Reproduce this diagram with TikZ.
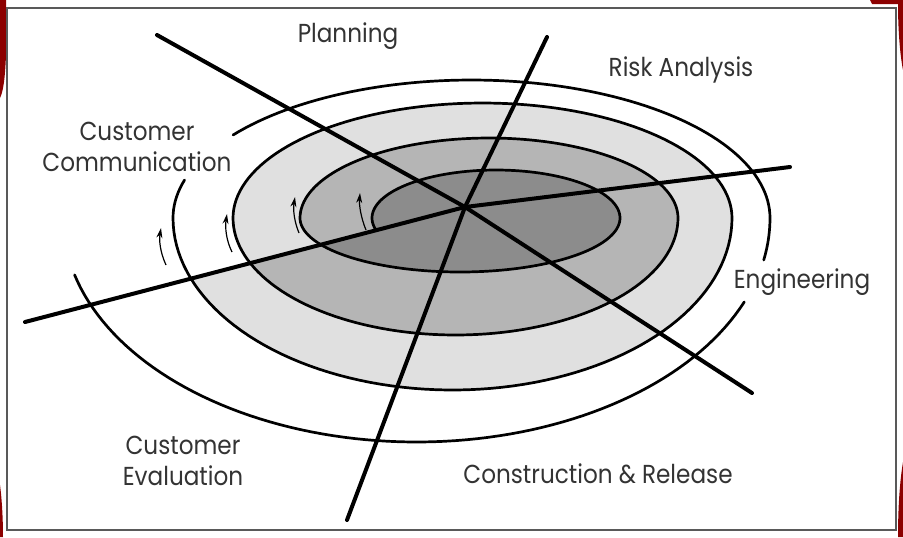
\documentclass[tikz,border=0pt]{standalone}
\usepackage{fontspec}
\setmainfont{Poppins}[FakeStretch=0.89]
\usetikzlibrary{arrows.meta}
\begin{document}
\begin{tikzpicture}[x=0.5pt,y=-0.5pt,
  spiral/.style={line width=1.35pt, line join=round, line cap=round},
  ray/.style={line width=2pt, line cap=round},
  lbl/.style={font=\fontsize{13}{15.5}\selectfont, text=black!80, align=center, inner sep=0pt},
  arr/.style={line width=0.6pt, -{Stealth[length=5pt,width=3pt]}},
  lightfill/.style={fill=black!12},
  midfill/.style={fill=black!29},
  darkfill/.style={fill=black!45},
  corner/.style={fill=red!55!black}]
\useasboundingbox (0,0) rectangle (903,537);
\fill[white] (0,0) rectangle (903,537);
% slide corners
\fill[corner] (0,0) -- (6,0) -- (6,55) .. controls (5,80) and (3,92) .. (0,98) -- cycle;
\fill[corner] (870,0) -- (903,0) -- (903,70) .. controls (900,55) and (898,30) .. (898,4) -- (872,4) -- cycle;
\fill[corner] (0,485) .. controls (2,500) and (3,520) .. (3,537) -- (0,537) -- cycle;
\fill[corner] (903,462) .. controls (900,480) and (898,505) .. (898,537) -- (903,537) -- cycle;
% frame
\draw[black!65, line width=1pt] (7,8) rectangle (896,530);
% fills
\path[lightfill]
  plot[domain=157.4:180, samples=20, variable=\t] ({455.5+222.5*cos(\t)},{218+117*sin(\t)})
  -- plot[domain=180:360, samples=80, variable=\t] ({482.5+249.5*cos(\t)},{218+115*sin(\t)})
  -- plot[domain=0:159.4, samples=80, variable=\t] ({452.5+279.5*cos(\t)},{218+172*sin(\t)})
  -- cycle;
\path[midfill]
  plot[domain=150.3:180, samples=20, variable=\t] ({460+160*cos(\t)},{218+54*sin(\t)})
  -- plot[domain=180:360, samples=80, variable=\t] ({489+189*cos(\t)},{218+80*sin(\t)})
  -- plot[domain=0:157.4, samples=80, variable=\t] ({455.5+222.5*cos(\t)},{218+117*sin(\t)})
  -- cycle;
\path[darkfill]
  plot[domain=165:360, samples=80, variable=\t] ({496+124*cos(\t)},{218+48*sin(\t)})
  -- plot[domain=0:150.3, samples=80, variable=\t] ({460+160*cos(\t)},{218+54*sin(\t)})
  -- cycle;
% spiral
\draw[spiral]
  plot[domain=165:360, samples=80, variable=\t] ({496+124*cos(\t)},{218+48*sin(\t)})
  -- plot[domain=0:180, samples=80, variable=\t] ({460+160*cos(\t)},{218+54*sin(\t)})
  -- plot[domain=180:360, samples=80, variable=\t] ({489+189*cos(\t)},{218+80*sin(\t)})
  -- plot[domain=0:180, samples=80, variable=\t] ({455.5+222.5*cos(\t)},{218+117*sin(\t)})
  -- plot[domain=180:360, samples=80, variable=\t] ({482.5+249.5*cos(\t)},{218+115*sin(\t)})
  -- plot[domain=0:180, samples=80, variable=\t] ({452.5+279.5*cos(\t)},{218+172*sin(\t)})
  -- plot[domain=180:196, samples=10, variable=\t] ({471.5+298.5*cos(\t)},{218+138*sin(\t)});
\draw[spiral]
  plot[domain=217:360, samples=80, variable=\t] ({471.5+298.5*cos(\t)},{218+138*sin(\t)})
  -- plot[domain=0:10.8, samples=10, variable=\t] ({416.5+353.5*cos(\t)},{218+224*sin(\t)});
\draw[spiral]
  plot[domain=22:165.3, samples=80, variable=\t] ({416.5+353.5*cos(\t)},{218+224*sin(\t)});
% direction arrows
\draw[arr] (366,230) .. controls (361,218) and (359,205) .. (360,193);
\draw[arr] (299,233) .. controls (294,221) and (293,209) .. (295,197);
\draw[arr] (232,252) .. controls (226,240) and (225,227) .. (227,214);
\draw[arr] (166,265) .. controls (160,252) and (159,240) .. (161,228);
% rays
\coordinate (C) at (465,207);
\coordinate (eL) at (25,322);
\coordinate (eR) at (790,167);
\coordinate (eUL) at (157,35);
\coordinate (eDR) at (752,393);
\coordinate (eU) at (547,37);
\coordinate (eD) at (347,520);
\draw[ray] (C) -- (eL);
\draw[ray] (C) -- (eR);
\draw[ray] (C) -- (eUL);
\draw[ray] (C) -- (eDR);
\draw[ray] (C) -- (eU);
\draw[ray] (C) -- (eD);
% labels
\node[lbl] (plan) at (348,36) {Planning};
\node[lbl] (risk) at (681,70) {Risk Analysis};
\node[lbl] (cc) at (137,147) {Customer\\Communication};
\node[lbl] (eng) at (802,282) {Engineering};
\node[lbl] (ce) at (183,461) {Customer\\Evaluation};
\node[lbl] (cr) at (598,474) {Construction \& Release};
\end{tikzpicture}
\end{document}
